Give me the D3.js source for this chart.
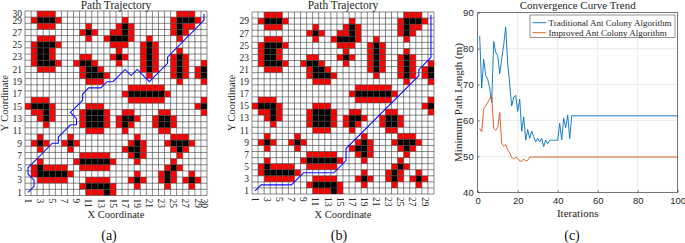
<!DOCTYPE html>
<html>
<head>
<meta charset="utf-8">
<script src="https://cdn.jsdelivr.net/npm/d3@7"></script>
<style>
  body { margin: 0; background: #fff; }
  svg { display: block; font-family: "Liberation Serif", "Times New Roman", serif; }
</style>
</head>
<body>
<svg id="fig" width="685" height="243"></svg>
<script>
// grid map, top row (y = 30) first; '.' free, 'r' danger zone, 'k' obstacle
const mapRows = [
  "..rrr....................rrr..",
  ".rkkkr..........r.......rkkkr.",
  "..rrr.....r....rkr......rkrr..",
  ".........rkr..rrkr......rkr...",
  "..rrr.....r..rkkkr..r....r....",
  ".rkkkr........rrr..rkr........",
  ".rkkr..........r...rkr...r....",
  ".rkkr....rr...rkr..rkr..rkr...",
  ".rkkkr..rkkr...r...rkr..rkr..r",
  "..rrr....rkkr......rkr..rkr.rk",
  ".........rkkkr......r...rkr.rk",
  "..........rrr............r...r",
  ".................rrrrrr.......",
  "................rkkkkkkr......",
  ".rrr.............rrrrrr......r",
  "rkkkr.....rrr...............rk",
  ".rrkr....rkkkr..rr....rr.....r",
  "..rkr....rkkkr.rkkr..rkkr.....",
  "...r.....rkkkr.rkr...rkkr.....",
  "..........rrr...r.....rr......",
  "..r....r..........r.....rrr...",
  ".rkr..rkr........rkr...rkkkr..",
  "..r....r........rkkr....rkr...",
  ".........rrrrr...rkr.....r....",
  "..r.....rkkkkkr...r.....r.....",
  ".rkrrrr..rrrrr.........rkr....",
  ".rkkkkkr..........r...rkr..r..",
  "..rrrrr...rrrr...rkr..rkr.rkr.",
  ".........rkkkkr...r....r...r..",
  "..........rrrkr..............."
]

// path corners (x, y) in grid units
const pathA = [[1,1],[2,2],[2,3],[1,4],[1,5],[2,6],[3,7],[4,8],[5,9],[6,9],[6,10],[7,11],[8,12],[9,12],[9,13],
  [8,14],[9,15],[10,16],[10,17],[11,18],[12,18],[13,18],[14,19],[15,19],[16,20],[17,21],[18,20],[19,21],
  [20,20],[21,19],[22,20],[23,21],[24,22],[24,23],[25,24],[26,25],[27,26],[28,27],[29,28],[30,29],[30,30]]
const pathB = [[1,1],[2,2],[7,2],[9,4],[14,4],[16,6],[16,8],[28,20],[28,21],[30,23],[30,30]]

const ticksA = [1,3,5,7,9,11,13,15,17,19,21,23,25,27,29,30]
const ticksB = [1,3,5,7,9,11,13,15,17,19,21,23,25,27,29]

// convergence curves
const tradIter = [1,2,3,4,5,6,7,8,9,10,11,12,13,14,15,16,17,18,19,20,21,22,23,24,25,26,27,28,29,30,
  31,32,33,34,35,36,37,38,39,40,41,42,43,44,45,46,47,100]
const tradLen = [83.5,69,77,72.5,71.5,69,65,82,79,78,73,77,81,86,76,70,64,66.5,67,62.5,66,57,61,54.5,57.5,55,57,55.5,54,55,
  54,55,52.7,54.5,53.5,54.5,54.5,54.5,54.5,54.5,59.2,54.6,60.6,58,61.5,55,61.3,61.3]
const impIter = [1,2,3,4,5,6,7,8,9,10,11,12,13,14,15,16,17,18,19,20,21,22,23,24,25,26,100]
const impLen = [57.8,56.8,63.2,64,65,66,67,57.8,57.3,58,62.2,53.6,52.8,53.3,51.8,51,49.7,49.3,49.8,49.5,48.7,48.6,49.3,48.7,48.9,49.8,49.8]
const iterTicks = [0,20,40,60,80,100]
const lenTicks = [40,50,60,70,80,90]
const seriesNames = ['Traditional Ant Colony Algorithm', 'Improved Ant Colony Algorithm']
const seriesColors = ['#0072BD', '#D95319']

mapRows.forEach((r, i) => { if (r.length !== 30) throw new Error('row ' + (30 - i) + ' has ' + r.length) })

const $svg = d3.select('#fig')
const AX = '#262626'
const cellFill = { r: '#ff0000', k: '#000000' }

function drawMap(box, path, ticks, caption, capX) {
  const x = d3.scaleLinear().domain([0.5, 30.5]).range([box.left, box.right])
  const y = d3.scaleLinear().domain([0.5, 30.5]).range([box.bottom, box.top])
  const g = $svg.append('g')
  const cw = x(2) - x(1), ch = y(1) - y(2)

  const cells = []
  mapRows.forEach((row, i) => {
    row.split('').forEach((c, j) => { if (c !== '.') cells.push({ col: j + 1, row: 30 - i, t: c }) })
  })
  g.selectAll('rect.cell').data(cells).enter().append('rect')
    .attr('class', 'cell')
    .attr('x', d => x(d.col - 0.5)).attr('y', d => y(d.row + 0.5))
    .attr('width', cw).attr('height', ch)
    .attr('fill', d => cellFill[d.t])

  const lines = d3.range(0.5, 31, 1)
  g.selectAll('line.v').data(lines).enter().append('line')
    .attr('x1', d => x(d)).attr('x2', d => x(d)).attr('y1', box.top).attr('y2', box.bottom)
    .attr('stroke', '#3a3a3a').attr('stroke-width', 0.6)
  g.selectAll('line.h').data(lines).enter().append('line')
    .attr('y1', d => y(d)).attr('y2', d => y(d)).attr('x1', box.left).attr('x2', box.right)
    .attr('stroke', '#3a3a3a').attr('stroke-width', 0.6)

  g.append('path')
    .datum(path)
    .attr('d', d3.line().x(d => x(d[0])).y(d => y(d[1])))
    .attr('fill', 'none').attr('stroke', '#1010ff').attr('stroke-width', 1.1)

  g.selectAll('text.yt').data(ticks).enter().append('text')
    .attr('x', box.left - 3).attr('y', d => y(d)).attr('dy', '0.35em')
    .attr('text-anchor', 'end').attr('font-size', 9.5).attr('fill', AX)
    .text(d => d)
  g.selectAll('text.xt').data(ticks).enter().append('text')
    .attr('transform', d => `translate(${x(d)},${box.bottom + 3}) rotate(90)`)
    .attr('dy', '0.35em').attr('font-size', 9.5).attr('fill', AX)
    .text(d => d)

  const cx = (box.left + box.right) / 2
  g.append('text').attr('x', cx).attr('y', 9).attr('text-anchor', 'middle')
    .attr('font-size', 11.5).attr('fill', AX).text('Path Trajectory')
  g.append('text').attr('x', cx).attr('y', 218).attr('text-anchor', 'middle')
    .attr('font-size', 10.5).attr('fill', AX).text('X Coordinate')
  g.append('text')
    .attr('transform', `translate(${box.left - 17},${(box.top + box.bottom) / 2}) rotate(-90)`)
    .attr('text-anchor', 'middle').attr('font-size', 10.5).attr('fill', AX).text('Y Coordinate')
  g.append('text').attr('x', capX).attr('y', 240).attr('text-anchor', 'middle')
    .attr('font-size', 14).attr('fill', '#111').text(caption)
}

drawMap({ left: 25, right: 207, top: 11, bottom: 195.5 }, pathA, ticksA, '(a)', 109)
drawMap({ left: 252, right: 434, top: 12, bottom: 194 }, pathB, ticksB, '(b)', 339)

// convergence chart
const cBox = { left: 477.7, right: 677.7, top: 12.7, bottom: 192.3 }
const xC = d3.scaleLinear().domain([0, 100]).range([cBox.left, cBox.right])
const yC = d3.scaleLinear().domain([40, 90]).range([cBox.bottom, cBox.top])
const gC = $svg.append('g')

gC.selectAll('line.gx').data(iterTicks).enter().append('line')
  .attr('x1', d => xC(d)).attr('x2', d => xC(d)).attr('y1', cBox.top).attr('y2', cBox.bottom)
  .attr('stroke', '#e3e3e3').attr('stroke-width', 0.7)
gC.selectAll('line.gy').data(lenTicks).enter().append('line')
  .attr('y1', d => yC(d)).attr('y2', d => yC(d)).attr('x1', cBox.left).attr('x2', cBox.right)
  .attr('stroke', '#e3e3e3').attr('stroke-width', 0.7)

const series = [
  { name: seriesNames[0], color: seriesColors[0], pts: tradIter.map((t, i) => [t, tradLen[i]]) },
  { name: seriesNames[1], color: seriesColors[1], pts: impIter.map((t, i) => [t, impLen[i]]) }
]
const line = d3.line().x(d => xC(d[0])).y(d => yC(d[1]))
gC.selectAll('path.s').data(series).enter().append('path')
  .attr('d', d => line(d.pts)).attr('fill', 'none')
  .attr('stroke', d => d.color).attr('stroke-width', 0.9)

gC.append('rect').attr('x', cBox.left).attr('y', cBox.top)
  .attr('width', cBox.right - cBox.left).attr('height', cBox.bottom - cBox.top)
  .attr('fill', 'none').attr('stroke', AX).attr('stroke-width', 0.6)

gC.append('g').attr('transform', `translate(0,${cBox.bottom})`)
  .call(d3.axisBottom(xC).tickValues(iterTicks).tickSizeInner(-2).tickSizeOuter(0).tickPadding(5))
  .call(a => a.select('.domain').remove())
  .call(a => a.selectAll('line').attr('stroke', AX).attr('stroke-width', 0.6))
  .call(a => a.selectAll('text').attr('font-family', null).attr('font-size', 9.5).attr('fill', AX))
gC.append('g').attr('transform', `translate(${cBox.left},0)`)
  .call(d3.axisLeft(yC).tickValues(lenTicks).tickSizeInner(-2).tickSizeOuter(0).tickPadding(4))
  .call(a => a.select('.domain').remove())
  .call(a => a.selectAll('line').attr('stroke', AX).attr('stroke-width', 0.6))
  .call(a => a.selectAll('text').attr('font-family', null).attr('font-size', 9.5).attr('fill', AX))

gC.append('text').attr('x', (cBox.left + cBox.right) / 2).attr('y', 9).attr('text-anchor', 'middle')
  .attr('font-size', 11).attr('fill', AX).text('Convergence Curve Trend')
gC.append('text').attr('x', (cBox.left + cBox.right) / 2).attr('y', 217).attr('text-anchor', 'middle')
  .attr('font-size', 11).attr('fill', AX).text('Iterations')
gC.append('text')
  .attr('transform', `translate(462,${(cBox.top + cBox.bottom) / 2}) rotate(-90)`)
  .attr('text-anchor', 'middle').attr('font-size', 11).attr('fill', AX).text('Minimum Path Length (m)')
gC.append('text').attr('x', 572).attr('y', 240).attr('text-anchor', 'middle')
  .attr('font-size', 14).attr('fill', '#111').text('(c)')

// legend
const gL = gC.append('g').attr('transform', 'translate(530,15)')
gL.append('rect').attr('width', 145).attr('height', 22.5)
  .attr('fill', '#fff').attr('stroke', AX).attr('stroke-width', 0.5)
const item = gL.selectAll('g.item').data(series).enter().append('g')
  .attr('transform', (d, i) => `translate(0,${7.7 + i * 10})`)
item.append('line').attr('x1', 2.5).attr('x2', 16).attr('stroke', d => d.color).attr('stroke-width', 0.9)
item.append('text').attr('x', 18.5).attr('dy', '0.35em').attr('font-size', 9)
  .attr('fill', AX).text(d => d.name)
</script>
</body>
</html>
